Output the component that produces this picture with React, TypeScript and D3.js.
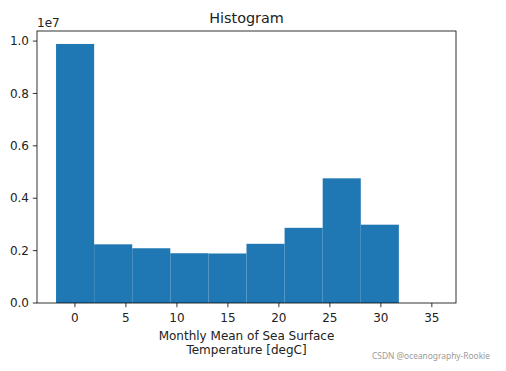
import React from "react";
import * as d3 from "d3";

const binEdges = [-1.85, 1.885, 5.62, 9.355, 13.09, 16.825, 20.56, 24.295, 28.03, 31.765, 35.5];
const counts = [9.89e6, 2.24e6, 2.09e6, 1.9e6, 1.89e6, 2.26e6, 2.87e6, 4.76e6, 2.99e6, 0];
const xTicks = [0, 5, 10, 15, 20, 25, 30, 35];
const yTicks = [0, 0.2e7, 0.4e7, 0.6e7, 0.8e7, 1.0e7];
const titleText = "Histogram";
const xLabelLines = ["Monthly Mean of Sea Surface", "Temperature [degC]"];
const watermark = "CSDN @oceanography-Rookie";

const W = 506, H = 371;
const L = 37, R = 456, T = 31, B = 303;
const FONT = "DejaVu Sans, sans-serif";

export default function App() {
  const lo = binEdges[0], hi = binEdges[binEdges.length - 1];
  const span = hi - lo;
  const x = d3.scaleLinear().domain([lo - 0.05 * span, hi + 0.05 * span]).range([L, R]);
  const yMax = d3.max(counts) as number;
  const y = d3.scaleLinear().domain([0, yMax * 1.05]).range([B, T]);
  const cx = (L + R) / 2;
  return (
    <div style={{ position: "absolute", left: 0, top: 0 }}>
      <svg width={W} height={H} style={{ display: "block" }} fontFamily={FONT}>
        <rect width={W} height={H} fill="#fff" />
        {counts.map((c, i) => (
          <rect
            key={i}
            x={x(binEdges[i])}
            y={y(c)}
            width={x(binEdges[i + 1]) - x(binEdges[i])}
            height={B - y(c)}
            fill="#1f77b4"
          />
        ))}
        <rect x={L} y={T} width={R - L} height={B - T} fill="none" stroke="#000" strokeWidth={0.8} />
        {xTicks.map((t) => (
          <g key={t} transform={`translate(${x(t)},${B})`}>
            <line y1={0} y2={4.2} stroke="#000" strokeWidth={0.8} />
            <text y={18.5} textAnchor="middle" fontSize={12} fill="#222">{t}</text>
          </g>
        ))}
        {yTicks.map((t) => (
          <g key={t} transform={`translate(${L},${y(t)})`}>
            <line x1={0} x2={-4.2} stroke="#000" strokeWidth={0.8} />
            <text x={-8} dy="0.35em" textAnchor="end" fontSize={12} fill="#222">{(t / 1e7).toFixed(1)}</text>
          </g>
        ))}
        <text x={L} y={27} fontSize={12} fill="#222">1e7</text>
        <text x={cx} y={22.5} textAnchor="middle" fontSize={14.4} fill="#222">{titleText}</text>
        {xLabelLines.map((s, i) => (
          <text key={i} x={cx} y={339.5 + i * 14} textAnchor="middle" fontSize={12} fill="#222">{s}</text>
        ))}
        <text x={372} y={358.5} fontSize={8.5} fill="#9a9a9a" fontFamily="Noto Sans, sans-serif" textLength={118} lengthAdjust="spacingAndGlyphs">{watermark}</text>
      </svg>
    </div>
  );
}
